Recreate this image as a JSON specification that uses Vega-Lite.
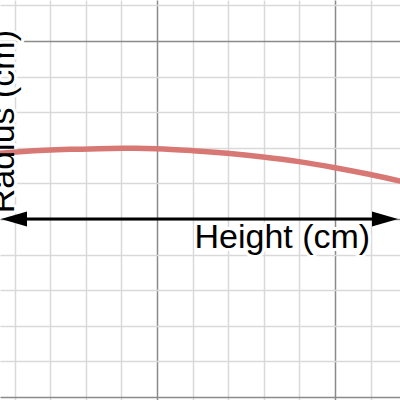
{
  "$schema": "https://vega.github.io/schema/vega-lite/v6.json",
  "width": 400,
  "height": 400,
  "padding": 0,
  "autosize": {"type": "none"},
  "background": "white",
  "config": {"view": {"stroke": null}},
  "encoding": {
    "x": {
      "field": "x", "type": "quantitative",
      "scale": {"domain": [0.59, 11.826], "nice": false, "zero": false},
      "axis": {
        "values": [1, 2, 3, 4, 5, 6, 7, 8, 9, 10, 11],
        "grid": true, "labels": false, "ticks": false, "domain": false, "title": null,
        "gridWidth": 1.5,
        "gridColor": {"condition": {"test": "datum.value % 5 === 0", "value": "#8a8a8a"}, "value": "#d9d9d9"}
      }
    },
    "y": {
      "field": "y", "type": "quantitative",
      "scale": {"domain": [-0.084, 11.15], "nice": false, "zero": false},
      "axis": {
        "values": [0, 1, 2, 3, 4, 5, 6, 7, 8, 9, 10, 11],
        "grid": true, "labels": false, "ticks": false, "domain": false, "title": null,
        "gridWidth": 1.5,
        "gridColor": {"condition": {"test": "datum.value % 5 === 0", "value": "#8a8a8a"}, "value": "#d9d9d9"}
      }
    }
  },
  "layer": [
    {
      "data": {"values": [
        {"x": 6.053, "y": 4.185, "label": "Height (cm)"}
      ]},
      "mark": {"type": "text", "align": "left", "baseline": "alphabetic", "font": "Liberation Sans", "fontSize": 34, "fill": "white", "stroke": "white", "strokeWidth": 6, "strokeJoin": "round"},
      "encoding": {"text": {"field": "label"}}
    },
    {
      "data": {"values": [
        {"x": 0.997, "y": 7.733, "label": "Radius (cm)"}
      ]},
      "mark": {"type": "text", "align": "center", "baseline": "alphabetic", "angle": 270, "font": "Liberation Sans", "fontSize": 34, "fill": "white", "stroke": "white", "strokeWidth": 6, "strokeJoin": "round"},
      "encoding": {"text": {"field": "label"}}
    },
    {
      "data": {"values": [
        {"x": 0.40, "y": 6.83},
        {"x": 0.590, "y": 6.846},
        {"x": 1.152, "y": 6.888},
        {"x": 1.854, "y": 6.930},
        {"x": 2.556, "y": 6.955},
        {"x": 3.118, "y": 6.966},
        {"x": 3.680, "y": 6.980},
        {"x": 4.382, "y": 6.986},
        {"x": 5.000, "y": 6.975},
        {"x": 6.011, "y": 6.919},
        {"x": 6.966, "y": 6.846},
        {"x": 7.978, "y": 6.742},
        {"x": 8.989, "y": 6.610},
        {"x": 10.000, "y": 6.441},
        {"x": 10.955, "y": 6.256},
        {"x": 11.826, "y": 6.067},
        {"x": 12.2, "y": 5.98}
      ]},
      "mark": {"type": "line", "clip": true, "interpolate": "monotone", "stroke": "#d87875", "strokeWidth": 5.5, "strokeCap": "round"}
    },
    {
      "data": {"values": [{"x": 0.983, "x2": 11.404, "y": 5}]},
      "mark": {"type": "rule", "color": "black", "strokeWidth": 3},
      "encoding": {"x2": {"field": "x2"}}
    },
    {
      "data": {"values": [
        {"x": 0.983, "y": 5, "dir": "left"},
        {"x": 11.404, "y": 5, "dir": "right"}
      ]},
      "mark": {"type": "point", "filled": true, "color": "black", "opacity": 1, "size": 676, "strokeWidth": 0},
      "encoding": {
        "shape": {
          "field": "dir", "type": "nominal", "legend": null,
          "scale": {"domain": ["left", "right"], "range": ["M1,-0.58L-1,0L1,0.58Z", "M-1,-0.58L1,0L-1,0.58Z"]}
        }
      }
    },
    {
      "data": {"values": [
        {"x": 6.053, "y": 4.185, "label": "Height (cm)"}
      ]},
      "mark": {"type": "text", "align": "left", "baseline": "alphabetic", "font": "Liberation Sans", "fontSize": 34, "fill": "black"},
      "encoding": {"text": {"field": "label"}}
    },
    {
      "data": {"values": [
        {"x": 0.997, "y": 7.733, "label": "Radius (cm)"}
      ]},
      "mark": {"type": "text", "align": "center", "baseline": "alphabetic", "angle": 270, "font": "Liberation Sans", "fontSize": 34, "fill": "black"},
      "encoding": {"text": {"field": "label"}}
    }
  ]
}
